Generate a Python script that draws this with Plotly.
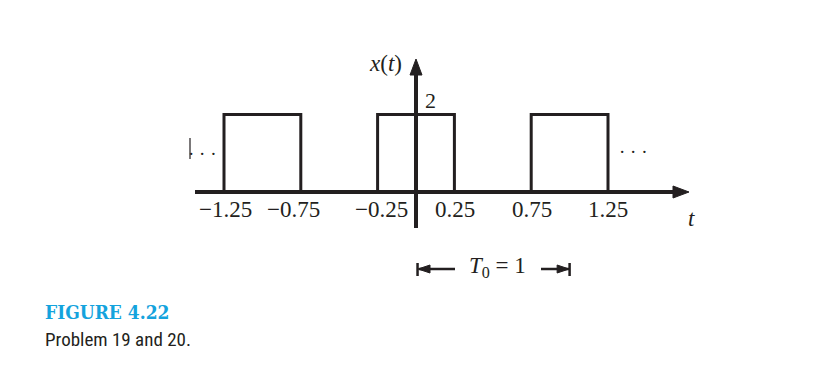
import plotly.graph_objects as go

# ---- data ----
pulse_starts = [-1.25, -0.25, 0.75]
pulse_width = 0.5
amplitude = 2
tick_values = [-1.25, -0.75, -0.25, 0.25, 0.75, 1.25]
tick_labels = ["\u22121.25", "\u22120.75", "\u22120.25", "0.25", "0.75", "1.25"]
period = 1
amp_label = "2"

# ---- geometry (pixel <-> data) ----
W, H = 821, 384
X0PX, XSCALE = 416.0, 153.6
Y0PX, YSCALE = 192.0, 38.75

def X(px):
    return (px - X0PX) / XSCALE

def Y(py):
    return (Y0PX - py) / YSCALE

INK = "#231f20"
SERIF = "Liberation Serif"

# pulses
xs, ys = [], []
for s in pulse_starts:
    xs += [s, s, s + pulse_width, s + pulse_width, None]
    ys += [0, amplitude, amplitude, 0, None]

fig = go.Figure()
fig.add_trace(go.Scatter(x=xs, y=ys, mode="lines",
                         line=dict(color=INK, width=3), hoverinfo="skip",
                         showlegend=False))

shapes = []
def line(x0, y0, x1, y1, w, color=INK):
    shapes.append(dict(type="line", xref="x", yref="y", x0=x0, y0=y0,
                       x1=x1, y1=y1, line=dict(color=color, width=w)))

def tri(pts):
    p = "M " + " L ".join(f"{a},{b}" for a, b in pts) + " Z"
    shapes.append(dict(type="path", xref="x", yref="y", path=p,
                       fillcolor=INK, line=dict(color=INK, width=1)))

# horizontal axis
line(X(195), 0, X(677), 0, 4)
tri([(X(689), 0), (X(673), Y(186)), (X(673), Y(198))])
# vertical axis
line(0, Y(228), 0, Y(72), 4)
tri([(0, Y(59)), (X(410), Y(75)), (X(422), Y(75))])

# small bar at left (artifact in reference)
line(X(190), Y(138), X(190), Y(159), 1.2)

# period marker T0 = 1
ym = Y(269)
line(0.01, Y(263), 0.01, Y(276), 2.5)
line(0.02, ym, X(455), ym, 2.5)
tri([(X(418), ym), (X(430), Y(265)), (X(430), Y(273))])
line(X(541), ym, period, ym, 2.5)
tri([(period - 0.003, ym), (period - 0.003 - 12 / XSCALE, Y(265)),
     (period - 0.003 - 12 / XSCALE, Y(273))])
line(period, Y(263), period, Y(276), 2.5)

annotations = []
def text(x, y, s, size, xanchor="center", yanchor="middle", family=SERIF,
         color=INK, xshift=0):
    annotations.append(dict(x=x, y=y, xref="x", yref="y", text=s,
                            showarrow=False, xanchor=xanchor, yanchor=yanchor,
                            xshift=xshift,
                            font=dict(family=family, size=size, color=color)))

shifts = [1, -7, 4, 1, 1, 0]
for v, lab, sh in zip(tick_values, tick_labels, shifts):
    text(v, Y(209), lab, 23, xshift=sh)

text(X(385), Y(63), "<i>x</i>(<i>t</i>)", 23)
text(X(430), Y(100), amp_label, 22)
text(X(691), Y(218), "<i>t</i>", 23)
text(X(497), Y(267), "<i>T</i><sub>0</sub> = %d" % period, 23)
text(X(202), Y(153), "\u00b7 \u00b7 \u00b7", 19)
text(X(633), Y(151), "\u00b7 \u00b7 \u00b7", 19)

text(X(43), Y(312), "<b>FIGURE 4.22</b>", 19, xanchor="left",
     family="DejaVu Serif Condensed, DejaVu Serif, Liberation Serif",
     color="#14a3dd")
text(X(43), Y(339), "Problem 19 and 20.", 19, xanchor="left",
     family="Roboto Condensed, DejaVu Sans Condensed, Roboto, Liberation Sans",
     color=INK)

fig.update_layout(
    width=W, height=H, margin=dict(l=0, r=0, t=0, b=0),
    paper_bgcolor="white", plot_bgcolor="white",
    xaxis=dict(range=[X(0), X(W)], visible=False, fixedrange=True),
    yaxis=dict(range=[Y(H), Y(0)], visible=False, fixedrange=True),
    shapes=shapes, annotations=annotations, showlegend=False,
)
fig.write_html("out.html")
